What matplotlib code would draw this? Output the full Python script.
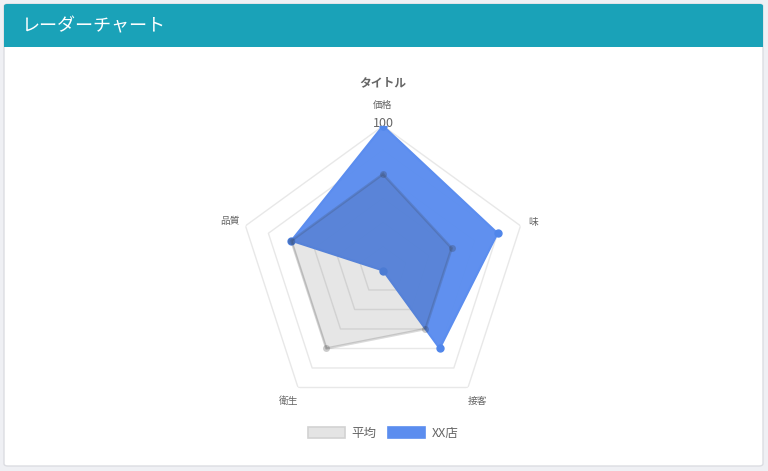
import numpy as np
import matplotlib
matplotlib.use("Agg")
from matplotlib import pyplot as plt
from matplotlib.patches import FancyBboxPatch, Rectangle

plt.rcParams['font.family'] = ['Noto Sans CJK JP', 'DejaVu Sans']

labels = ['価格', '味', '接客', '衛生', '品質']
avg = [80, 70, 70, 80, 80]
shop = [100, 90, 80, 40, 80]
series_names = ['平均', 'XX店']
rings = [50, 60, 70, 80, 90, 100]
r_min, r_max = 40, 100

fig = plt.figure(figsize=(7.68, 4.71), dpi=100)
fig.patch.set_facecolor('#eff0f4')

# card + header
W, H = 768.0, 471.0
card = FancyBboxPatch((4 / W, 5 / H), 759 / W, 462 / H,
                      boxstyle="round,pad=0,rounding_size=0.005",
                      transform=fig.transFigure, facecolor='white',
                      edgecolor='#dcdde2', lw=1.0, zorder=-3)
fig.patches.append(card)
head = FancyBboxPatch((4 / W, (H - 47) / H), 759 / W, 43 / H,
                      boxstyle="round,pad=0,rounding_size=0.004",
                      transform=fig.transFigure, facecolor='#1aa2b8',
                      edgecolor='none', zorder=-2)
fig.patches.append(head)
fig.patches.append(Rectangle((4 / W, (H - 47) / H), 759 / W, 8 / H,
                             transform=fig.transFigure, facecolor='#1aa2b8',
                             edgecolor='none', zorder=-2))
fig.text(22 / W, 1 - 26 / H, 'レーダーチャート', color='white', fontsize=13,
         ha='left', va='center')

fig.text(383 / W, 1 - 83 / H, 'タイトル', color='#666666', fontsize=8.5,
         fontweight='bold', ha='center', va='center')

ax = fig.add_axes([238.4 / W, 55.9 / H, 289.2 / W, 289.2 / H], polar=True)
ax.set_zorder(5)
ax.set_theta_zero_location('N')
ax.set_theta_direction(-1)
ax.set_ylim(r_min, r_max)
ax.grid(False)
ax.set_xticks([])
ax.set_yticks([])
ax.spines['polar'].set_visible(False)
ax.patch.set_alpha(0)

n = len(labels)
ang = np.linspace(0, 2 * np.pi, n, endpoint=False)
ang_c = np.append(ang, ang[0])

for v in rings:
    ax.plot(ang_c, [v] * (n + 1), color='#e8e8e8', lw=1, zorder=1)

ax.text(0, rings[-1] + 1.2, str(rings[-1]), color='#666666', fontsize=9,
        ha='center', va='center', zorder=1.5)

shop_c = shop + shop[:1]
avg_c = avg + avg[:1]
ax.fill(ang_c, shop_c, color='#5b8def', alpha=0.97, lw=0, zorder=2,
        label=series_names[1])
ax.plot(ang_c, shop_c, color='#5b8def', lw=1.5, zorder=2.1)
ax.plot(ang, shop, 'o', color='#5086ea', ms=5, zorder=2.2)

ax.fill(ang_c, avg_c, color=(0.2, 0.2, 0.2, 0.12), lw=0, zorder=3,
        label=series_names[0])
ax.plot(ang_c, avg_c, color=(0.2, 0.2, 0.2, 0.18), lw=1.8, zorder=3.1)
ax.plot(ang, avg, 'o', color=(0.2, 0.2, 0.2, 0.25), ms=5, zorder=3.2,
        markeredgewidth=0)

label_r = [108.5, 105.5, 106.8, 106.8, 106.8]
for a, lab, r in zip(ang, labels, label_r):
    ax.text(a, r, lab, color='#666666', fontsize=7, ha='center', va='center',
            clip_on=False)

h_avg = Rectangle((0, 0), 1, 1, facecolor='#e4e4e4', edgecolor='#d2d2d2', lw=1.2)
h_shop = Rectangle((0, 0), 1, 1, facecolor='#5b8def', edgecolor='#5b8def', lw=1.2)
fig.legend([h_avg, h_shop], series_names, loc='center',
           bbox_to_anchor=(383 / W, 1 - 433 / H), ncol=2, frameon=False,
           fontsize=9, handlelength=3.0, handleheight=1.0, handletextpad=0.5,
           columnspacing=0.9, labelcolor='#666666')

fig.savefig('out.png', dpi=100, facecolor=fig.get_facecolor())
